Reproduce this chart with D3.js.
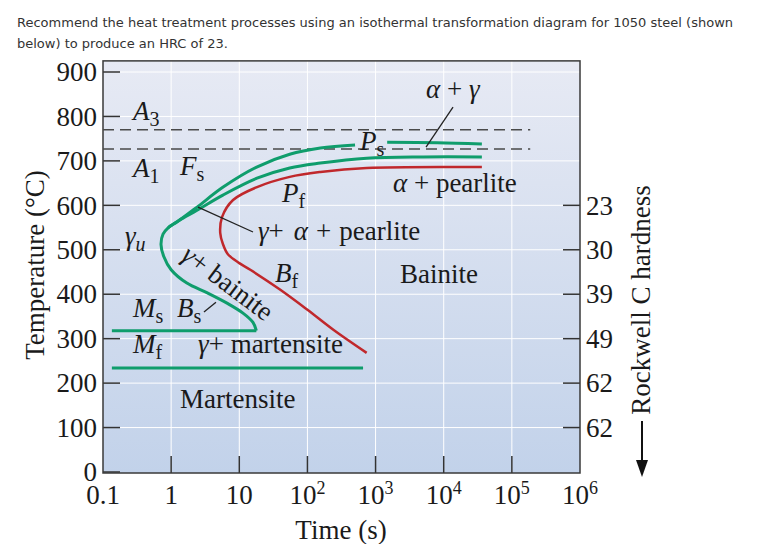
<!DOCTYPE html>
<html>
<head>
<meta charset="utf-8">
<script src="https://cdn.jsdelivr.net/npm/d3@7"></script>
<style>
body { margin: 0; background: #fff; }
svg text { font-family: "Liberation Serif", "Times New Roman", serif; fill: #1a1a1a; font-size: 27px; }
svg text.title { font-family: "DejaVu Sans", Verdana, sans-serif; font-size: 13px; fill: #333; }
</style>
</head>
<body>
<svg id="chart" width="783" height="544"></svg>
<script>
// axis ticks
const timeTicks = [0.1, 1, 10, 100, 1000, 1e4, 1e5, 1e6];
const timeTickLabels = [["0.1"], ["1"], ["10"], ["10", "2"], ["10", "3"], ["10", "4"], ["10", "5"], ["10", "6"]];
const tempTicks = [0, 100, 200, 300, 400, 500, 600, 700, 800, 900];
const hardnessTemps = [600, 500, 400, 300, 200, 100];
const hardnessLabels = ["23", "30", "39", "49", "62", "62"];

// critical temperatures (deg C)
const a3Temp = 770;
const a1Temp = 727;
const msTemp = 318;
const mfTemp = 234;
const dashEnd = 1.86e5;
const lineStart = 0.135;
const msEnd = 17.8;
const mfEnd = 655;

// curves: [time (s), temperature (C)]
const startCurve = [[17.8, 318], [15.8, 337], [11.2, 358], [6.6, 380], [3.4, 403], [1.7, 425],
    [1.0, 455], [0.78, 485], [0.71, 512], [0.76, 535], [0.91, 550], [1.23, 563], [2.4, 596],
    [5.8, 641], [18, 686], [55, 715], [155, 729], [500, 736]];
const startTail = [[1480, 742], [8000, 741], [36300, 738]];
const pearliteStart = [[0.91, 550], [1.3, 566], [2.4, 589], [5.75, 623], [18.2, 661], [55, 684],
    [155, 695], [740, 706], [5000, 709], [36300, 709]];
const finishCurve = [[36300, 686], [740, 684], [155, 675], [55, 664], [18.2, 641], [8.1, 612],
    [5.6, 574], [5.25, 538], [5.75, 513], [6.8, 490], [10, 470], [14.5, 455], [40, 410],
    [100, 365], [240, 320], [740, 268]];

// leader lines
const leaders = [
    [[2.48, 596], [15.9, 540]],
    [[13700, 821], [5500, 731]],
    [[3.03, 360], [4.55, 382]]
];

// region labels, anchored at [time, temp]
const labels = [
    {parts: [["A", "i"], ["3", "sub"]], t: 0.275, T: 792},
    {parts: [["A", "i"], ["1", "sub"]], t: 0.275, T: 664},
    {parts: [["F", "i"], ["s", "sub"]], t: 1.35, T: 668},
    {parts: [["γ", "i"], ["u", "subi"]], t: 0.21, T: 511},
    {parts: [["M", "i"], ["s", "sub"]], t: 0.275, T: 349},
    {parts: [["B", "i"], ["s", "sub"]], t: 1.22, T: 349},
    {parts: [["M", "i"], ["f", "sub"]], t: 0.275, T: 268},
    {parts: [["γ", "i"], ["+ martensite", "n"]], t: 2.48, T: 268},
    {parts: [["Martensite", "n"]], t: 1.35, T: 144},
    {parts: [["P", "i"], ["f", "sub"]], t: 42.4, T: 607},
    {parts: [["B", "i"], ["f", "sub"]], t: 33.4, T: 427},
    {parts: [["γ", "i"], ["+", "n"], ["α", "i", 10], ["+", "n", 8], ["pearlite", "n", 8]], t: 18.8, T: 522},
    {parts: [["α", "i"], [" + pearlite", "n"]], t: 1800, T: 630},
    {parts: [["Bainite", "n"]], t: 2290, T: 425},
    {parts: [["α", "i"], [" + ", "n"], ["γ", "i"]], t: 5500, T: 841},
    {parts: [["P", "i"], ["s", "sub"]], t: 590, T: 724},
    {parts: [["γ", "i"], ["+ bainite", "n"]], t: 1.35, T: 481, angle: 37}
];

const svg = d3.select("#chart");
const x = d3.scaleLog().domain([0.1, 1e6]).range([103, 580]);
const y = d3.scaleLinear().domain([0, 900]).range([472, 72]);
const plotTop = y(925), plotBottom = 473;

// title
svg.append("text").attr("class", "title").attr("x", 17).attr("y", 27)
    .text("Recommend the heat treatment processes using an isothermal transformation diagram for 1050 steel (shown");
svg.append("text").attr("class", "title").attr("x", 17).attr("y", 48)
    .text("below) to produce an HRC of 23.");

// background
const grad = svg.append("defs").append("linearGradient").attr("id", "bg")
    .attr("x1", 0).attr("y1", 0).attr("x2", 0).attr("y2", 1);
grad.append("stop").attr("offset", "0%").attr("stop-color", "#e7eaf4");
grad.append("stop").attr("offset", "100%").attr("stop-color", "#c2d2ea");
svg.append("rect").attr("x", x(0.1)).attr("y", plotTop)
    .attr("width", x(1e6) - x(0.1)).attr("height", plotBottom - plotTop).attr("fill", "url(#bg)");

// grid
svg.append("g").selectAll("line").data(timeTicks.slice(1, -1)).enter().append("line")
    .attr("x1", d => x(d)).attr("x2", d => x(d)).attr("y1", plotTop).attr("y2", plotBottom)
    .attr("stroke", "#fff").attr("stroke-width", 1);
svg.append("g").selectAll("line").data(tempTicks.slice(1)).enter().append("line")
    .attr("x1", x(0.1)).attr("x2", x(1e6)).attr("y1", d => y(d)).attr("y2", d => y(d))
    .attr("stroke", "#fff").attr("stroke-width", 1);

// ticks
svg.append("g").selectAll("line").data(tempTicks).enter().append("line")
    .attr("x1", x(0.1)).attr("x2", x(0.1) + 17).attr("y1", d => y(d)).attr("y2", d => y(d))
    .attr("stroke", "#333").attr("stroke-width", 1.5);
svg.append("g").selectAll("line").data(timeTicks.slice(1, -1)).enter().append("line")
    .attr("x1", d => x(d)).attr("x2", d => x(d)).attr("y1", plotBottom).attr("y2", plotBottom - 17)
    .attr("stroke", "#333").attr("stroke-width", 1.5);
svg.append("g").selectAll("line").data(hardnessTemps).enter().append("line")
    .attr("x1", x(1e6) - 17).attr("x2", x(1e6)).attr("y1", d => y(d)).attr("y2", d => y(d))
    .attr("stroke", "#333").attr("stroke-width", 1.5);

// frame
svg.append("rect").attr("x", x(0.1)).attr("y", plotTop)
    .attr("width", x(1e6) - x(0.1)).attr("height", plotBottom - plotTop)
    .attr("fill", "none").attr("stroke", "#3a3a3a").attr("stroke-width", 1.5);

// tick labels
svg.append("g").selectAll("text").data(tempTicks).enter().append("text")
    .attr("x", x(0.1) - 6).attr("y", d => y(d)).attr("dy", "0.34em")
    .attr("text-anchor", "end").attr("font-size", 28).text(d => d);
svg.append("g").selectAll("text").data(hardnessTemps).enter().append("text")
    .attr("x", x(1e6) + 6).attr("y", d => y(d)).attr("dy", "0.34em")
    .text((d, i) => hardnessLabels[i]);
const tl = svg.append("g").selectAll("text").data(timeTicks).enter().append("text")
    .attr("x", d => x(d)).attr("y", 504).attr("text-anchor", "middle");
tl.each(function(d, i) {
    const parts = timeTickLabels[i];
    d3.select(this).append("tspan").text(parts[0]);
    if (parts[1]) d3.select(this).append("tspan").attr("font-size", 18).attr("dy", -10).text(parts[1]);
});

// axis titles
svg.append("text").attr("x", 341).attr("y", 539).attr("text-anchor", "middle").attr("font-size", 26).text("Time (s)");
svg.append("text").attr("transform", "translate(44,265) rotate(-90)")
    .attr("text-anchor", "middle").text("Temperature (°C)");
svg.append("text").attr("transform", "translate(650,300) rotate(-90)")
    .attr("text-anchor", "middle").attr("font-size", 26).text("Rockwell C hardness");
svg.append("line").attr("x1", 642).attr("x2", 642).attr("y1", 421).attr("y2", 462)
    .attr("stroke", "#111").attr("stroke-width", 2);
svg.append("path").attr("d", "M636,460L648,460L642,477Z").attr("fill", "#111");

// dashed A3 / A1
svg.append("g").selectAll("line").data([a3Temp, a1Temp]).enter().append("line")
    .attr("x1", x(0.1)).attr("x2", x(dashEnd)).attr("y1", d => y(d)).attr("y2", d => y(d))
    .attr("stroke", "#4a4a4a").attr("stroke-width", 1.5).attr("stroke-dasharray", "11,6");

// Ms / Mf lines
const green = "#0f9d6c", red = "#c0282c";
svg.append("line").attr("x1", x(lineStart)).attr("x2", x(msEnd)).attr("y1", y(msTemp)).attr("y2", y(msTemp))
    .attr("stroke", green).attr("stroke-width", 3);
svg.append("line").attr("x1", x(lineStart)).attr("x2", x(mfEnd)).attr("y1", y(mfTemp)).attr("y2", y(mfTemp))
    .attr("stroke", green).attr("stroke-width", 3);

// curves
const line = d3.line().x(d => x(d[0])).y(d => y(d[1])).curve(d3.curveCatmullRom);
[startCurve, startTail, pearliteStart].forEach(function(c) {
    svg.append("path").attr("d", line(c)).attr("fill", "none")
        .attr("stroke", green).attr("stroke-width", 3);
});
svg.append("path").attr("d", line(finishCurve)).attr("fill", "none")
    .attr("stroke", red).attr("stroke-width", 2.5);

// leaders
svg.append("g").selectAll("line").data(leaders).enter().append("line")
    .attr("x1", d => x(d[0][0])).attr("y1", d => y(d[0][1]))
    .attr("x2", d => x(d[1][0])).attr("y2", d => y(d[1][1]))
    .attr("stroke", "#222").attr("stroke-width", 1.3);

// labels
labels.forEach(function(l) {
    const txt = svg.append("text")
        .attr("transform", "translate(" + x(l.t) + "," + y(l.T) + ") rotate(" + (l.angle || 0) + ")");
    l.parts.forEach(function(p) {
        const ts = txt.append("tspan").text(p[0]);
        if (p[2]) ts.attr("dx", p[2]);
        if (p[1] == "i") ts.attr("font-style", "italic");
        if (p[1] == "sub") ts.attr("font-size", 20).attr("dy", 6);
        if (p[1] == "subi") ts.attr("font-size", 20).attr("dy", 6).attr("font-style", "italic");
    });
});
</script>
</body>
</html>
